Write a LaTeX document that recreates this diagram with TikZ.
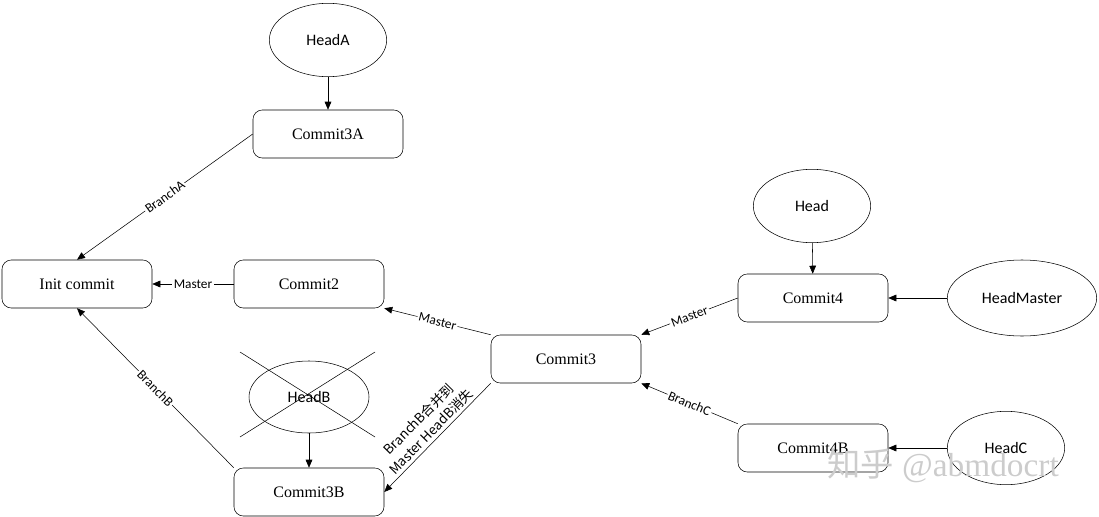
\documentclass[tikz,border=0pt]{standalone}
\usepackage{fontspec}
\setmainfont{Liberation Serif}
\newfontfamily\lab{Carlito}
\newfontfamily\cjk{Noto Sans CJK SC}
\usetikzlibrary{shapes.geometric,arrows.meta}
\begin{document}
\begin{tikzpicture}[x=0.75pt,y=-0.75pt,
  box/.style={draw,rounded corners=7pt,minimum width=112.5pt,minimum height=36pt,font=\fontsize{12}{14}\selectfont\rmfamily},
  ell/.style={draw,ellipse,font=\fontsize{12}{14}\selectfont\lab},
  arr/.style={-{Triangle[length=6pt,width=5pt]},thin},
  lb/.style={fill=white,inner sep=1pt,font=\fontsize{10}{11}\selectfont\lab,sloped}]
\useasboundingbox (0,0) rectangle (1099,517);
\node[ell,minimum width=88pt,minimum height=55pt] (headA) at (328,40) {HeadA};
\node[box] (c3a) at (328,134) {Commit3A};
\node[box] (init) at (77,284) {Init commit};
\node[box] (c2) at (309,284) {Commit2};
\node[box] (c3) at (566,359) {Commit3};
\node[ell,minimum width=88pt,minimum height=55pt] (head) at (812,206) {Head};
\node[box] (c4) at (813,298) {Commit4};
\node[ell,minimum width=112pt,minimum height=57pt] (hm) at (1022,298) {HeadMaster};
\node[ell,minimum width=90pt,minimum height=54pt] (hb) at (309,397) {HeadB};
\draw (240,352) -- (375,437) (375,352) -- (240,437);
\node[box] (c3b) at (309,492) {Commit3B};
\node[box] (c4b) at (813,448) {Commit4B};
\node[ell,minimum width=88pt,minimum height=55pt] (hc) at (1006,448) {HeadC};
\node[text=gray!40,font=\fontsize{25}{28}\selectfont] (wm) at (943,466) {{\cjk 知乎} @abmdocrt};

\draw[arr] (headA) -- (c3a);
\draw[arr] (head) -- (c4);
\draw[arr] (hb) -- (c3b);
\draw[arr] (hm) -- (c4);
\draw[arr] (hc) -- (c4b);
\draw[arr] (c3a.west) -- node[lb]{BranchA} (init.north);
\draw[arr] (c2) -- node[lb]{Master} (init);
\draw[arr] (c3.north west) -- node[lb]{Master} (c2.south east);
\draw[arr] (c4.west) -- node[lb]{Master} (c3.north east);
\draw[arr] (c4b.north west) -- node[lb]{BranchC} (c3.south east);
\draw[arr] (c3b.north west) -- node[lb]{BranchB} (init.south);
\draw[arr] (c3.south west) -- node[lb,align=center,fill=none,above=1pt,font=\fontsize{10}{13}\selectfont\cjk]{BranchB合并到\\Master HeadB消失} (c3b.east);
\end{tikzpicture}
\end{document}
